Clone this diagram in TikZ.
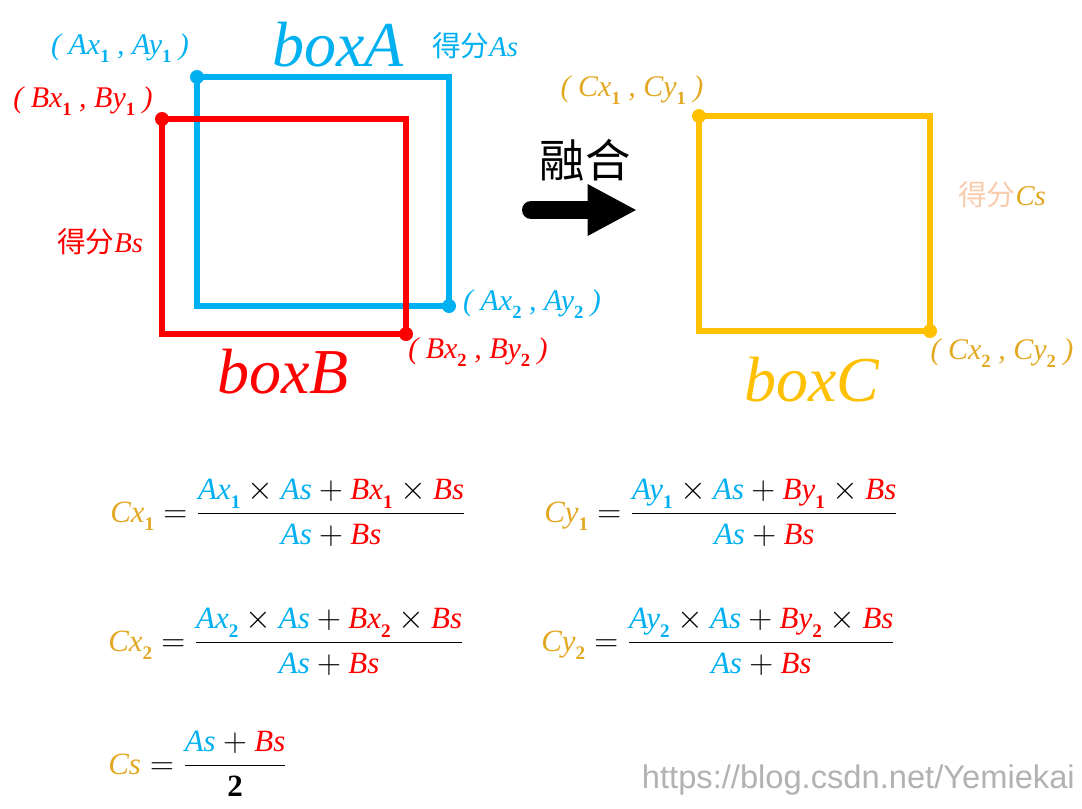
\documentclass[tikz,border=0pt]{standalone}
\usepackage{amsmath}
\usepackage{fontspec}
\setmainfont{Liberation Serif}
\newfontfamily\cjk{Noto Sans CJK SC}
\newfontfamily\wmfont{Liberation Sans}
\usepackage{tikz}
\usetikzlibrary{positioning, arrows.meta}

\definecolor{boxblue}{HTML}{00B0F0}
\definecolor{boxred}{HTML}{FF0000}
\definecolor{boxgold}{HTML}{FFC000}
\definecolor{textgold}{HTML}{E3A822}
\definecolor{peach}{HTML}{F8CBAD}

\newcommand{\vsub}[2]{\textit{#1}\raisebox{-0.28em}{\scalebox{0.62}{\upshape\bfseries #2}}}
\newcommand{\inblue}[1]{\textcolor{boxblue}{#1}}
\newcommand{\inred}[1]{\textcolor{boxred}{#1}}
\newcommand{\ingold}[1]{\textcolor{textgold}{#1}}

\begin{document}
\begin{tikzpicture}[x=0.75pt,y=0.75pt,yscale=-1,xscale=1,
                    boxline/.style={line width=3.8pt},
                    corner/.style={circle, fill, inner sep=0pt, minimum size=10.5pt},
                    coordlabel/.style={font=\fontsize{22.5}{26}\selectfont\itshape, inner sep=0pt},
                    boxname/.style={font=\fontsize{48}{54}\selectfont\itshape, inner sep=0pt},
                    scorelabel/.style={font=\fontsize{21.5}{24}\selectfont, inner sep=0pt},
                    formula/.style={font=\fontsize{23.2}{27}\selectfont, inner sep=0pt, anchor=west}]
\useasboundingbox (0,0) rectangle (1082,808);

%Corners
\coordinate (A1) at (197,77);
\coordinate (A2) at (449,306);
\coordinate (B1) at (162,119);
\coordinate (B2) at (406,334);
\coordinate (C1) at (699,116);
\coordinate (C2) at (930,331);

%Shape: Rectangle boxA
\draw [boxline, boxblue] (A1) rectangle (A2) ;
%Shape: Rectangle boxB
\draw [boxline, boxred] (B1) rectangle (B2) ;
%Shape: Rectangle boxC
\draw [boxline, boxgold] (C1) rectangle (C2) ;

%Shape: Circle corners
\node [corner, boxblue] (dotA1) at (A1) {};
\node [corner, boxblue] (dotA2) at (A2) {};
\node [corner, boxred] (dotB1) at (B1) {};
\node [corner, boxred] (dotB2) at (B2) {};
\node [corner, boxgold] (dotC1) at (C1) {};
\node [corner, boxgold] (dotC2) at (C2) {};

%Arrow
\coordinate (arrS) at (531,210);
\coordinate (arrE) at (637,210);
\draw [line width=13.5pt, line cap=round, -{Triangle[length=37pt, width=36pt]}] (arrS) -- (arrE) ;

% Text Node
\node [font=\cjk\fontsize{34}{40}\selectfont] (fuse) at (585,160) {融合};
% Text Node
\node [boxname, boxblue] (nameA) at (338,45) {boxA};
\node [boxname, boxred] (nameB) at (283,372) {boxB};
\node [boxname, boxgold] (nameC) at (812,380) {boxC};
% Text Node
\node [scorelabel, boxblue] (scoreA) at (475,46) {{\cjk 得分}\textit{As}};
\node [scorelabel, boxred] (scoreB) at (100,242) {{\cjk 得分}\textit{Bs}};
\node [scorelabel] (scoreC) at (1002,195) {{\cjk\color{peach}得分}\ingold{\textit{Cs}}};
% Text Node
\node [coordlabel, boxblue] (lblA1) at (120,48) {( \vsub{Ax}{1} , \vsub{Ay}{1} )};
\node [coordlabel, boxred] (lblB1) at (83,101) {( \vsub{Bx}{1} , \vsub{By}{1} )};
\node [coordlabel, boxblue] (lblA2) at (532,304) {( \vsub{Ax}{2} , \vsub{Ay}{2} )};
\node [coordlabel, boxred] (lblB2) at (478,352) {( \vsub{Bx}{2} , \vsub{By}{2} )};
\node [coordlabel, textgold] (lblC1) at (632,90) {( \vsub{Cx}{1} , \vsub{Cy}{1} )};
\node [coordlabel, textgold] (lblC2) at (1002,353) {( \vsub{Cx}{2} , \vsub{Cy}{2} )};

% Formulas
\node [formula] (eqCx1) at (110,513) {$\ingold{\vsub{Cx}{1}} = \dfrac{\inblue{\vsub{Ax}{1}} \times \inblue{\textit{As}} + \inred{\vsub{Bx}{1}} \times \inred{\textit{Bs}}}{\inblue{\textit{As}} + \inred{\textit{Bs}}}$};
\node [formula] (eqCy1) at (544,513) {$\ingold{\vsub{Cy}{1}} = \dfrac{\inblue{\vsub{Ay}{1}} \times \inblue{\textit{As}} + \inred{\vsub{By}{1}} \times \inred{\textit{Bs}}}{\inblue{\textit{As}} + \inred{\textit{Bs}}}$};
\node [formula] (eqCx2) at (108,642) {$\ingold{\vsub{Cx}{2}} = \dfrac{\inblue{\vsub{Ax}{2}} \times \inblue{\textit{As}} + \inred{\vsub{Bx}{2}} \times \inred{\textit{Bs}}}{\inblue{\textit{As}} + \inred{\textit{Bs}}}$};
\node [formula] (eqCy2) at (541,642) {$\ingold{\vsub{Cy}{2}} = \dfrac{\inblue{\vsub{Ay}{2}} \times \inblue{\textit{As}} + \inred{\vsub{By}{2}} \times \inred{\textit{Bs}}}{\inblue{\textit{As}} + \inred{\textit{Bs}}}$};
\node [formula] (eqCs) at (108,764) {$\ingold{\textit{Cs}} = \dfrac{\inblue{\textit{As}} + \inred{\textit{Bs}}}{\textbf{2}}$};

% Watermark
\node [font=\wmfont\fontsize{24.5}{28}\selectfont, text=black!30, anchor=east, inner sep=0pt] (mark) at (1075,780) {https://blog.csdn.net/Yemiekai};

\end{tikzpicture}
\end{document}
